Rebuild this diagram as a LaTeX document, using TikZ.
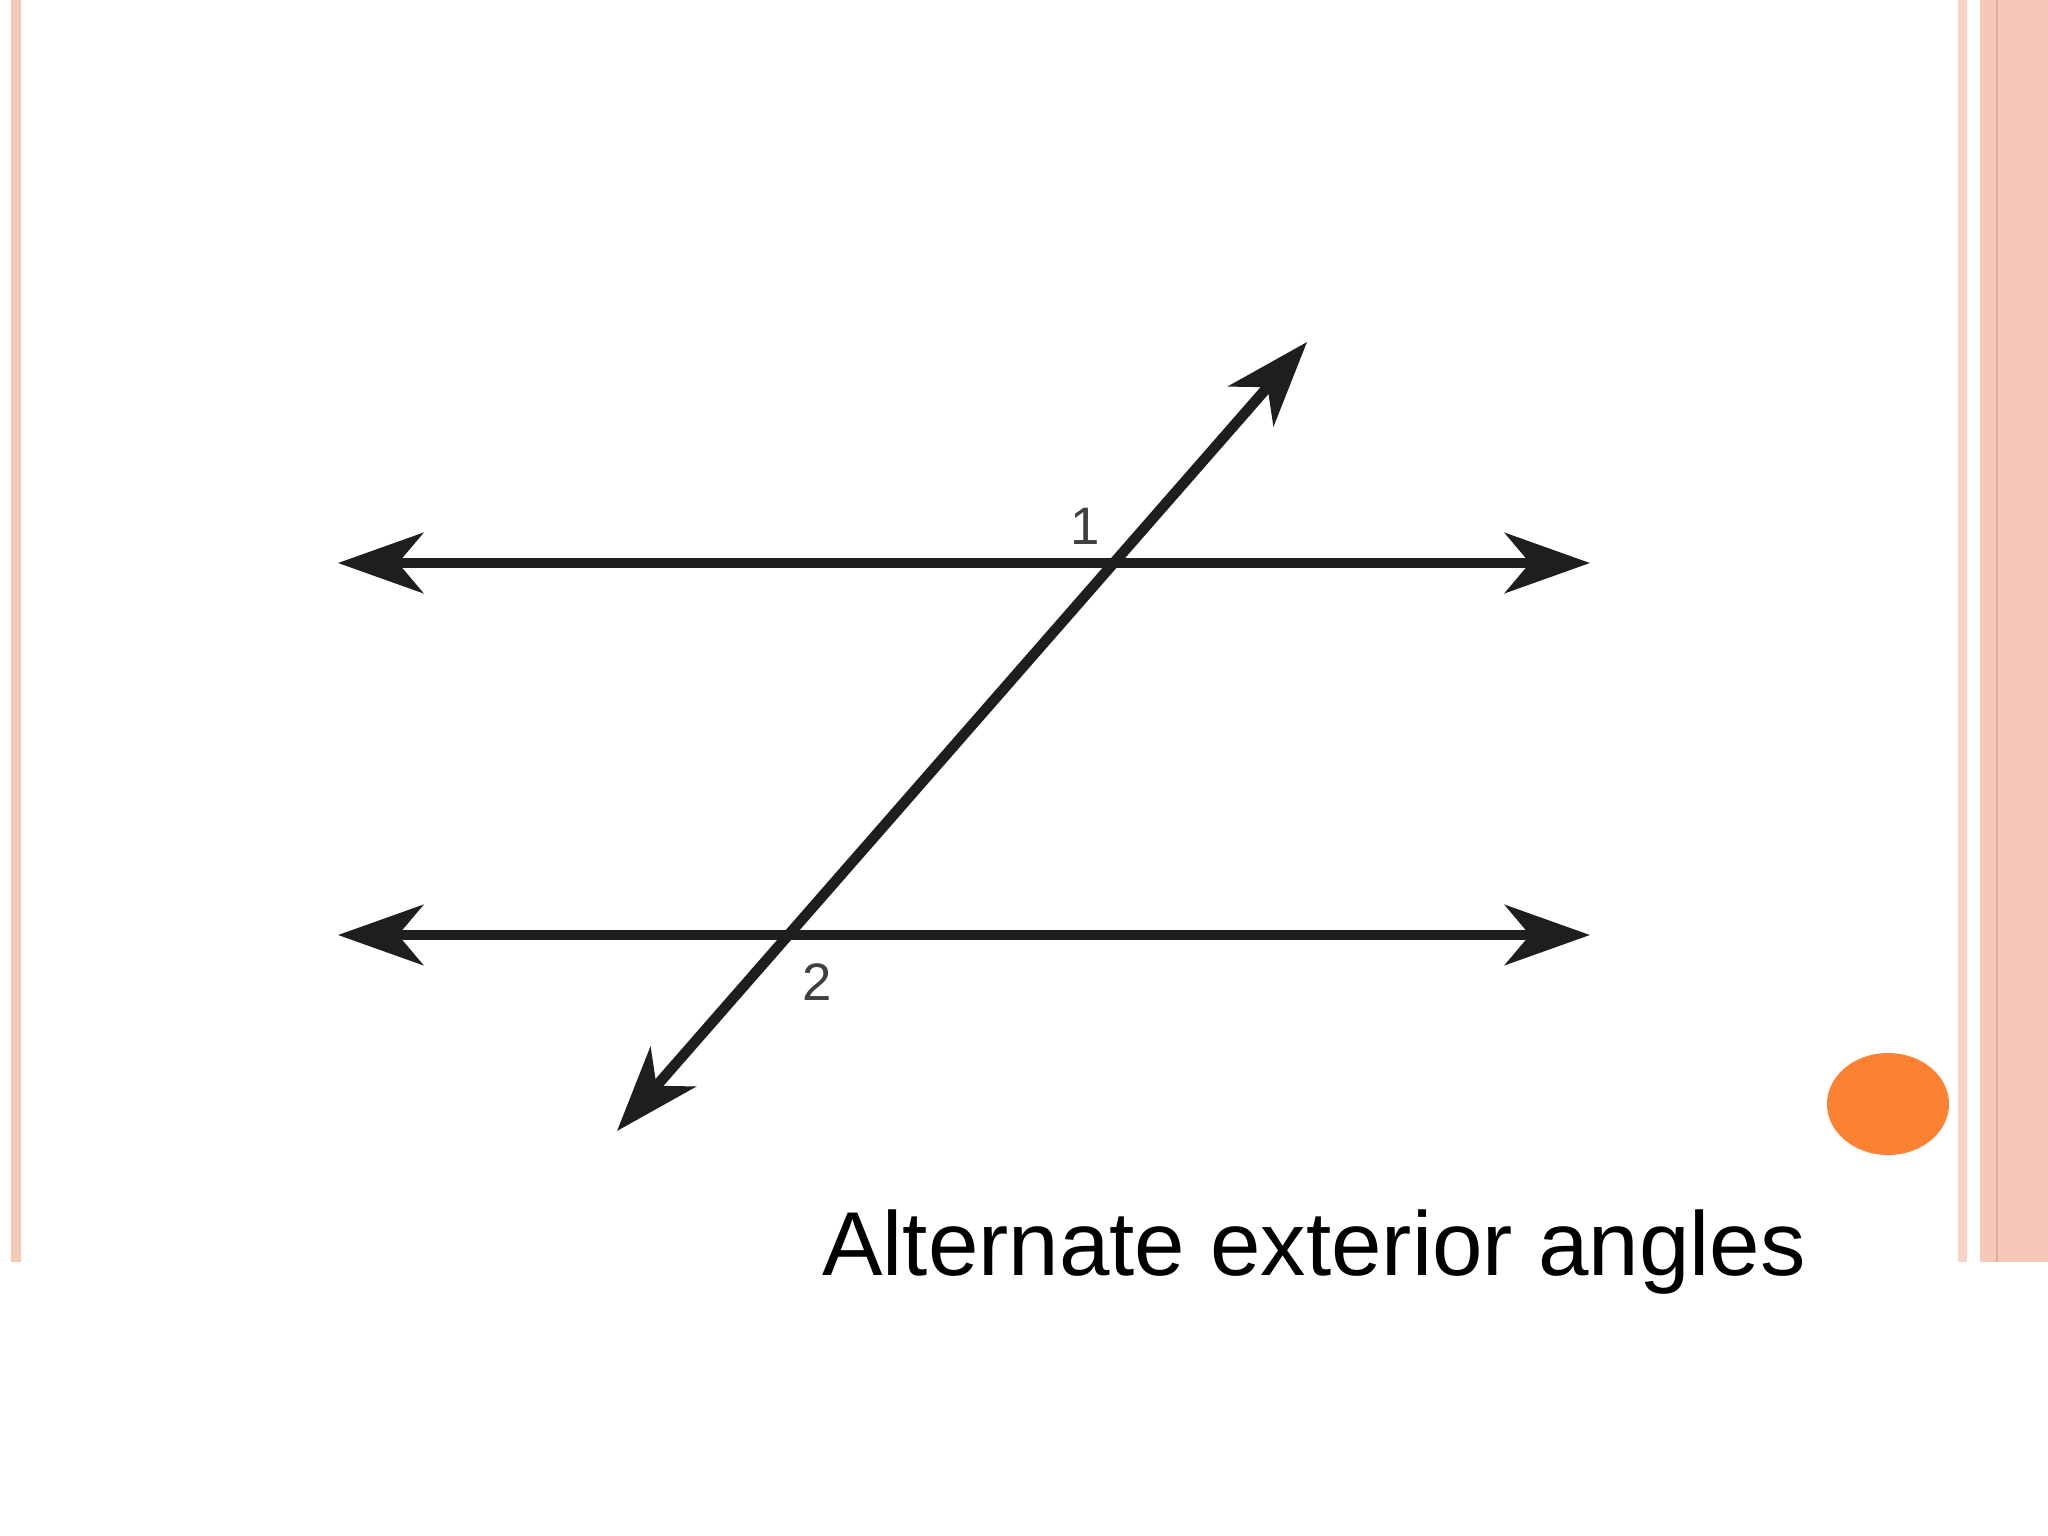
\documentclass[tikz,border=0pt]{standalone}
\usepackage{fontspec}
\setmainfont{Liberation Sans}
\usetikzlibrary{arrows.meta}
\definecolor{stripe}{RGB}{246,200,184}
\definecolor{stripeD}{RGB}{226,170,155}
\definecolor{dot}{RGB}{250,130,50}
\definecolor{ln}{RGB}{30,30,30}
\tikzset{ray/.style={line width=3pt,draw=ln,{Stealth[length=0.85cm,width=0.6cm,inset=0.25cm]}-{Stealth[length=0.85cm,width=0.6cm,inset=0.25cm]}},
lbl/.style={font=\fontsize{15}{18}\selectfont,text=ln!85}}
\begin{document}
\begin{tikzpicture}[x=0.01cm,y=-0.01cm]
\useasboundingbox (0,0) rectangle (2048,1536);
\fill[white] (0,0) rectangle (2048,1536);
\fill[stripe] (11,0) rectangle (21,1262);
\fill[stripe!80] (1958,0) rectangle (1967,1262);
\fill[stripe] (1980,0) rectangle (2048,1262);
\fill[stripeD] (1996,0) rectangle (1998,1262);
\fill[dot] (1888,1104) ellipse [x radius=61, y radius=51];
\coordinate (tl) at (338,563); \coordinate (tr) at (1590,563);
\coordinate (bl) at (338,935); \coordinate (br) at (1590,935);
\coordinate (ta) at (1307,342); \coordinate (tb) at (617,1131);
\draw[ray] (tl) -- (tr);
\draw[ray] (bl) -- (br);
\draw[ray] (tb) -- (ta);
\node[lbl] (n1) at (1085,526) {1};
\node[lbl] (n2) at (817,982) {2};
\node[font=\fontsize{25.8}{31}\selectfont] (cap) at (1314,1252) {Alternate exterior angles};
\end{tikzpicture}
\end{document}
